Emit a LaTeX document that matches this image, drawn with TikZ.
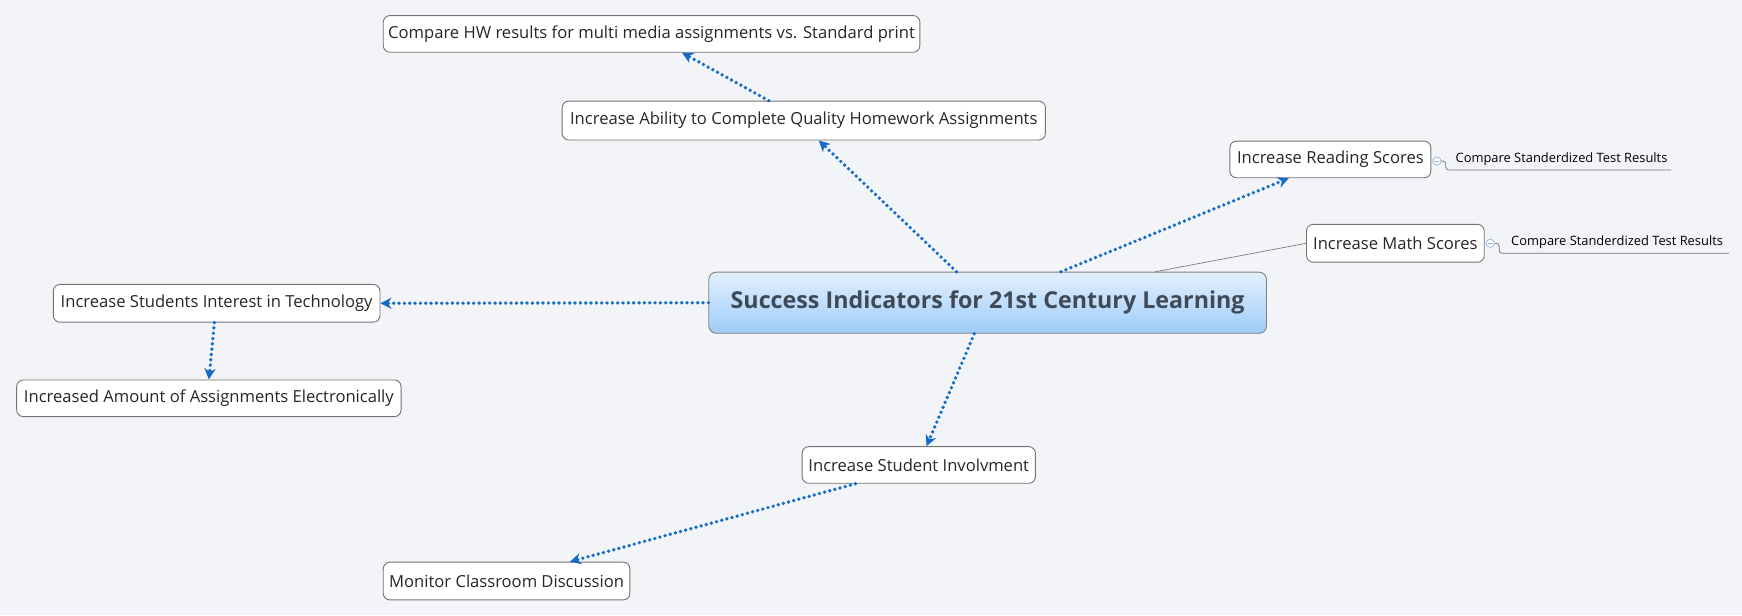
\documentclass[tikz,border=0pt]{standalone}
\usepackage{fontspec}
\setmainfont{Open Sans}
\usetikzlibrary{arrows.meta,calc}
\definecolor{fftfff}{rgb}{0.949,0.957,0.973}
\definecolor{qqffcc}{rgb}{0.08,0.42,0.78}
\definecolor{ttttww}{rgb}{0.25,0.29,0.34}
\definecolor{ccddff}{rgb}{0.89,0.94,0.99}
\definecolor{aaccff}{rgb}{0.62,0.80,0.98}
\definecolor{bbccee}{rgb}{0.60,0.71,0.86}

\begin{document}
\begin{tikzpicture}[line cap=round,line join=round,x=0.75pt,y=-0.75pt,
	topic/.style={draw=black!55,fill=white,rounded corners=4.5pt,line width=0.6pt,inner sep=0pt,text=black!85,font=\fontsize{11.2}{13}\selectfont},
	maintopic/.style={draw=black!50,top color=ccddff,bottom color=aaccff,rounded corners=5pt,line width=0.6pt,inner sep=0pt,text=ttttww,font=\fontsize{15.7}{18}\selectfont\bfseries},
	note/.style={inner sep=0pt,anchor=west,text=black,font=\fontsize{8.7}{10}\selectfont},
	relation/.style={draw=qqffcc,line width=2.5pt,dash pattern=on 0pt off 3.6pt,line cap=round,-{Stealth[length=7.5pt,width=7.5pt]}},
	fold/.style={draw=bbccee,fill=white,line width=0.5pt}]
	\useasboundingbox[fill=fftfff] (0,0) rectangle (1568,554);
	% topics
	\node[maintopic,minimum width=376.5pt,minimum height=41.25pt] (center) at (889,272.5) {Success Indicators for 21st Century Learning};
	\node[topic,minimum width=362.25pt,minimum height=24.75pt] (hwcompare) at (586.5,30.5) {Compare HW results for multi media assignments vs. Standard print};
	\node[topic,minimum width=326.25pt,minimum height=26.25pt] (ability) at (723.5,108.5) {Increase Ability to Complete Quality Homework Assignments};
	\node[topic,minimum width=135.75pt,minimum height=24.75pt] (reading) at (1197.5,143.5) {Increase Reading Scores};
	\node[topic,minimum width=120pt,minimum height=25.5pt] (math) at (1256,219) {Increase Math Scores};
	\node[topic,minimum width=220.5pt,minimum height=25.5pt] (interest) at (195,273) {Increase Students Interest in Technology};
	\node[topic,minimum width=259.5pt,minimum height=24.75pt] (amount) at (188,358.5) {Increased Amount of Assignments Electronically};
	\node[topic,minimum width=157.5pt,minimum height=24.75pt] (involve) at (827,418.5) {Increase Student Involvment};
	\node[topic,minimum width=166.5pt,minimum height=25.5pt] (monitor) at (456,523) {Monitor Classroom Discussion};
	% notes on the right
	\node[note] (readnote) at (1310,143) {Compare Standerdized Test Results};
	\node[note] (mathnote) at (1360,218) {Compare Standerdized Test Results};
	\coordinate (readfold) at ($(reading.east)+(5,1.5)$);
	\coordinate (mathfold) at ($(math.east)+(5,0)$);
	\draw[black!55,line width=0.5pt,rounded corners=2pt] ($(readfold)+(3.5,0)$) -- ($(readfold)+(8,0)$) -- ($(readfold)+(8,8)$) -- ($(readnote.east)+(3,10)$);
	\draw[black!55,line width=0.5pt,rounded corners=2pt] ($(mathfold)+(3.5,0)$) -- ($(mathfold)+(8,0)$) -- ($(mathfold)+(8,9)$) -- ($(mathnote.east)+(5,10)$);
	\draw[fold] (readfold) circle (2.8pt);
	\draw[bbccee,line width=0.5pt] ($(readfold)+(-2,0)$) -- ($(readfold)+(2,0)$);
	\draw[fold] (mathfold) circle (2.8pt);
	\draw[bbccee,line width=0.5pt] ($(mathfold)+(-2,0)$) -- ($(mathfold)+(2,0)$);
	% relations
	\draw[relation] ($(center.north)+(-28,0)$) -- ($(ability.south)+(13.5,0)$);
	\draw[relation] ($(ability.north)+(-31.5,0)$) -- ($(hwcompare.south)+(27.5,0)$);
	\draw[relation] ($(center.north)+(66,0)$) -- ($(reading.south)+(-37.5,0)$);
	\draw[relation] (center.west) -- (interest.east);
	\draw[relation] ($(interest.south)+(-2,0)$) -- (amount.north);
	\draw[relation] ($(center.south)+(-12,0)$) -- ($(involve.north)+(7,0)$);
	\draw[relation] ($(involve.south)+(-57,0)$) -- ($(monitor.north)+(57,0)$);
	\draw[black!50,line width=0.5pt] ($(center.north)+(151,0)$) -- (math.west);
\end{tikzpicture}
\end{document}
